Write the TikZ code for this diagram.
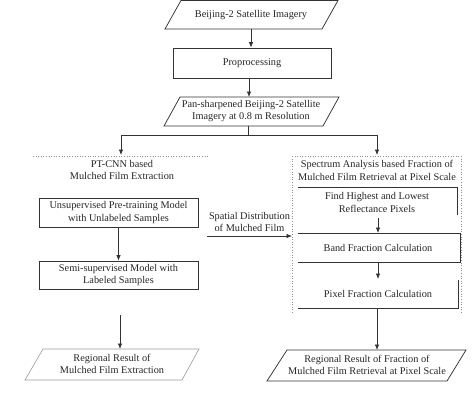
\documentclass[tikz,border=0pt]{standalone}
\usepackage{fontspec}
\setmainfont{Liberation Serif}
\usetikzlibrary{arrows.meta}
\begin{document}
\begin{tikzpicture}[x=1pt,y=-1pt,
  line/.style={draw=black!80,line width=0.75pt},
  arr/.style={line,-{Latex[length=5.5pt,width=4.5pt]}},
  txt/.style={font=\fontsize{10.3}{12.6}\selectfont,align=center,inner sep=0pt,text=black!85},
  dots/.style={draw=black!45,dotted,line width=0.6pt},
  faint/.style={draw=black!40,line width=0.6pt}]
\useasboundingbox (0,0) rectangle (474,405);
% top input
\draw[line] (165,29) -- (322,29) -- (338,0.4) -- (181,0.4) -- cycle;
\node[txt] (bj) at (251,15) {Beijing-2 Satellite Imagery};
\coordinate (bjb) at (251,29);
% preprocessing
\node[txt,draw=black!80,line width=0.75pt,minimum width=158pt,minimum height=30pt] (proc) at (252,63) {Proprocessing};
\draw[arr] (bjb) -- (bjb|-proc.north);
% pan-sharpened
\draw[line] (164,126) -- (323,126) -- (339,97) -- (180,97) -- cycle;
\node[txt] (pan) at (251,111) {Pan-sharpened Beijing-2 Satellite\\Imagery at 0.8 m Resolution};
\coordinate (pant) at (249,97);
\coordinate (panb) at (248,126);
\draw[arr] (proc.south-|pant) -- (pant);
% split
\coordinate (split) at (248,135);
\coordinate (lt) at (121,155);
\coordinate (rt) at (377,155);
\draw[line] (panb) -- (split);
\draw[arr] (split) -- (split-|lt) -- (lt);
\draw[arr] (split) -- (split-|rt) -- (rt);
% left group
\draw[dots] (33,156) -- (208,156);
\node[txt] (ltitle) at (122,170) {PT-CNN based\\Mulched Film Extraction};
\node[txt,draw=black!80,line width=0.75pt,minimum width=159pt,minimum height=29pt] (uns) at (118.5,212.5) {Unsupervised Pre-training Model\\with Unlabeled Samples};
\node[txt,draw=black!80,line width=0.75pt,minimum width=159pt,minimum height=28pt] (semi) at (118.5,275) {Semi-supervised Model with\\Labeled Samples};
\draw[arr] (uns.south) -- (semi.north);
\coordinate (ls) at (120,315);
\draw[arr] (ls) -- (120,349);
% left output
\draw[faint] (43,349) -- (199,349) -- (182,380) -- (25,380) -- cycle;
\node[txt] (lout) at (112,364) {Regional Result of\\Mulched Film Extraction};
% right group
\draw[dots] (292,156) -- (461,156);
\draw[dots] (292,156) -- (292,314);
\draw[dots] (461,156) -- (461,314);
\node[txt] (rtitle) at (377,170.5) {Spectrum Analysis based Fraction of\\Mulched Film Retrieval at Pixel Scale};
% find box (partial lines as printed)
\draw[line] (298,187) -- (457,187) -- (457,215);
\node[txt] (find) at (377,202.5) {Find Highest and Lowest\\Reflectance Pixels};
% band box
\draw[line] (298,233) -- (460,233) -- (460,262) -- (298,262);
\node[txt] (band) at (378,247.5) {Band Fraction Calculation};
% pixel box
\draw[line] (458,280) -- (458,308) -- (298,308);
\node[txt] (pix) at (378,294) {Pixel Fraction Calculation};
\coordinate (fb) at (378,218);
\coordinate (bt) at (378,233);
\coordinate (bb) at (378,262);
\coordinate (pt) at (378,279);
\draw[arr] (fb) -- (bt);
\draw[arr] (bb) -- (pt);
% spatial distribution
\coordinate (sdl) at (207,236);
\coordinate (sdr) at (292,236);
\draw[arr] (sdl) -- (sdr);
\node[txt,anchor=south] (sd) at (249.5,232) {Spatial Distribution\\of Mulched Film};
% right output
\coordinate (rb) at (377,308);
\draw[arr] (rb) -- (377,350);
\draw[line] (287,350) -- (466,350) -- (447,381) -- (267,381) -- cycle;
\node[txt] (rout) at (367,365) {Regional Result of Fraction of\\Mulched Film Retrieval at Pixel Scale};
\end{tikzpicture}
\end{document}
